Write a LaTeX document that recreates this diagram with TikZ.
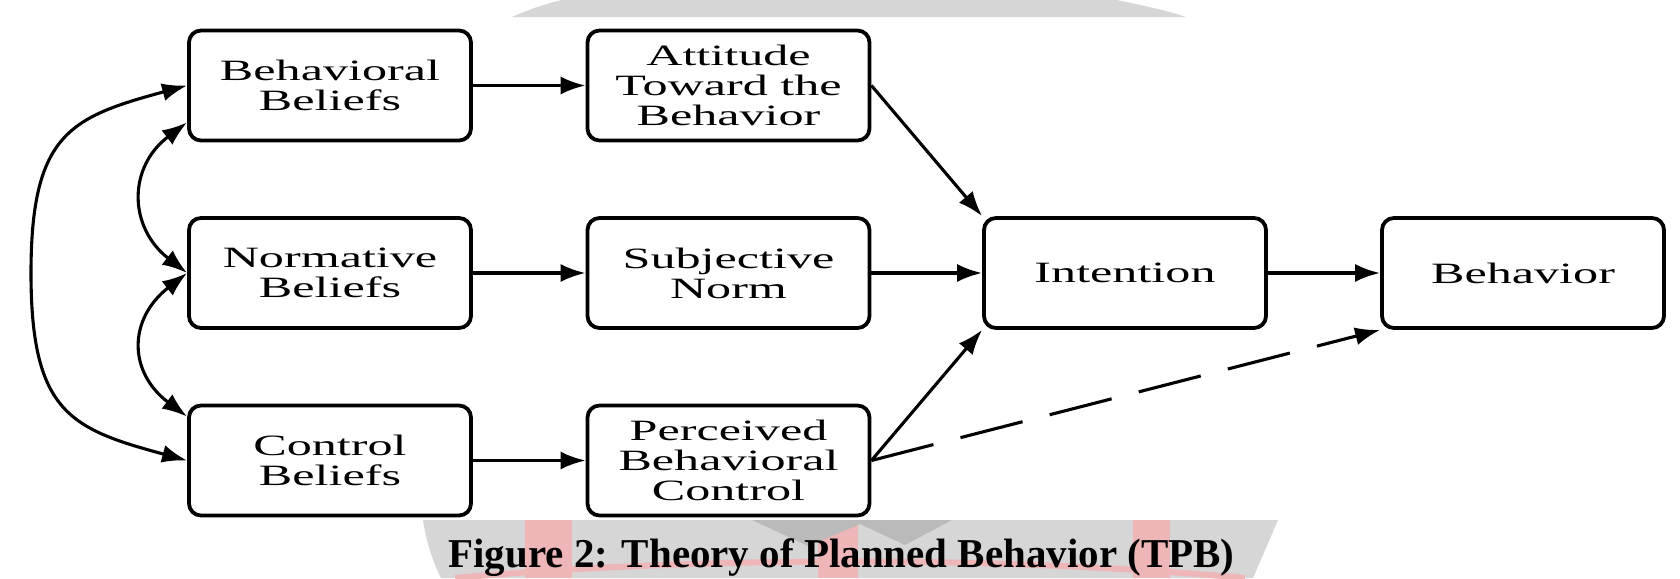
\documentclass[tikz,border=0pt]{standalone}
\usepackage{fontspec}
\setmainfont{Liberation Serif}
\newfontfamily\boxfont[FakeStretch=1.7]{Liberation Serif}
\usetikzlibrary{arrows.meta,calc}
\definecolor{wmgrey}{RGB}{214,214,214}
\definecolor{wmpink}{RGB}{238,182,182}
\definecolor{wmdark}{RGB}{186,186,186}
\begin{document}
\begin{tikzpicture}[x=0.5pt,y=-0.5pt,
  box/.style={draw, line width=1.9pt, rounded corners=6pt, minimum width=141pt,
    minimum height=55pt, inner sep=2pt, align=center,
    font=\boxfont\fontsize{14.75pt}{15pt}\selectfont},
  conn/.style={line width=1.55pt, -{Latex[length=12.5pt,width=9pt]}},
  dconn/.style={line width=1.55pt, {Latex[length=12.5pt,width=9pt]}-{Latex[length=12.5pt,width=9pt]}},
  dashconn/.style={conn, dash pattern=on 32pt off 14pt},
  capstyle/.style={anchor=base, inner sep=0pt, font=\bfseries\fontsize{20.5pt}{24pt}\selectfont}
]
\useasboundingbox (0,0) rectangle (1680,578);
\fill[white] (0,0) rectangle (1680,578);

% watermark fragments
\fill[wmgrey] (512,17) .. controls (530,9) and (545,4) .. (562,0) -- (1117,0)
  .. controls (1140,5) and (1165,10) .. (1186,17) -- cycle;
\fill[wmgrey] (423,520) -- (1278,520) -- (1253,578) -- (441,578)
  .. controls (432,560) and (426,540) .. (423,520);
\fill[wmpink] (525,520) rectangle (572,578);
\fill[wmpink] (818,520) rectangle (858,578);
\fill[wmpink] (1133,520) rectangle (1170,578);
\fill[wmdark] (752,520) -- (808,546) -- (860,524) -- (905,545) -- (952,520) -- cycle;
\draw[wmpink, line width=3pt] (455,578) .. controls (700,556) and (1000,556) .. (1245,578);

% boxes
\node[box] (BB)  at (330,85.5)   {Behavioral\\Beliefs};
\node[box] (NB)  at (330,273)    {Normative\\Beliefs};
\node[box] (CB)  at (330,460.5)  {Control\\Beliefs};
\node[box] (ATB) at (728.5,85.5) {Attitude\\Toward the\\Behavior};
\node[box] (SN)  at (728.5,273)  {Subjective\\Norm};
\node[box] (PBC) at (728.5,460.5){Perceived\\Behavioral\\Control};
\node[box] (INT) at (1125,273)   {Intention};
\node[box] (BEH) at (1523,273)   {Behavior};

% straight connectors
\draw[conn] (BB.east) -- (ATB.west);
\draw[conn] (NB.east) -- (SN.west);
\draw[conn] (CB.east) -- (PBC.west);
\draw[conn] (SN.east) -- (INT.west);
\draw[conn] (INT.east) -- (BEH.west);
\draw[conn] (ATB.east) -- (INT.north west);
\draw[conn] (PBC.east) -- (INT.south west);
\draw[dashconn] (PBC.east) -- (BEH.south west);

% left correlation arcs
\coordinate (L) at (31,273);
\draw[dconn] (BB.west) .. controls (71,117) and (31,133) .. (L)
  .. controls (31,413) and (71,429) .. (CB.west);
\draw[dconn] ($(BB.south west)+(0,-20)$) .. controls (128,167) and (128,227) .. (NB.west);
\draw[dconn] (NB.west) .. controls (128,319) and (128,372) .. ($(CB.north west)+(0,13)$);

% caption
\node[capstyle] (cap) at (841.5,567) {Figure 2: Theory of Planned Behavior (TPB)};
\end{tikzpicture}
\end{document}
